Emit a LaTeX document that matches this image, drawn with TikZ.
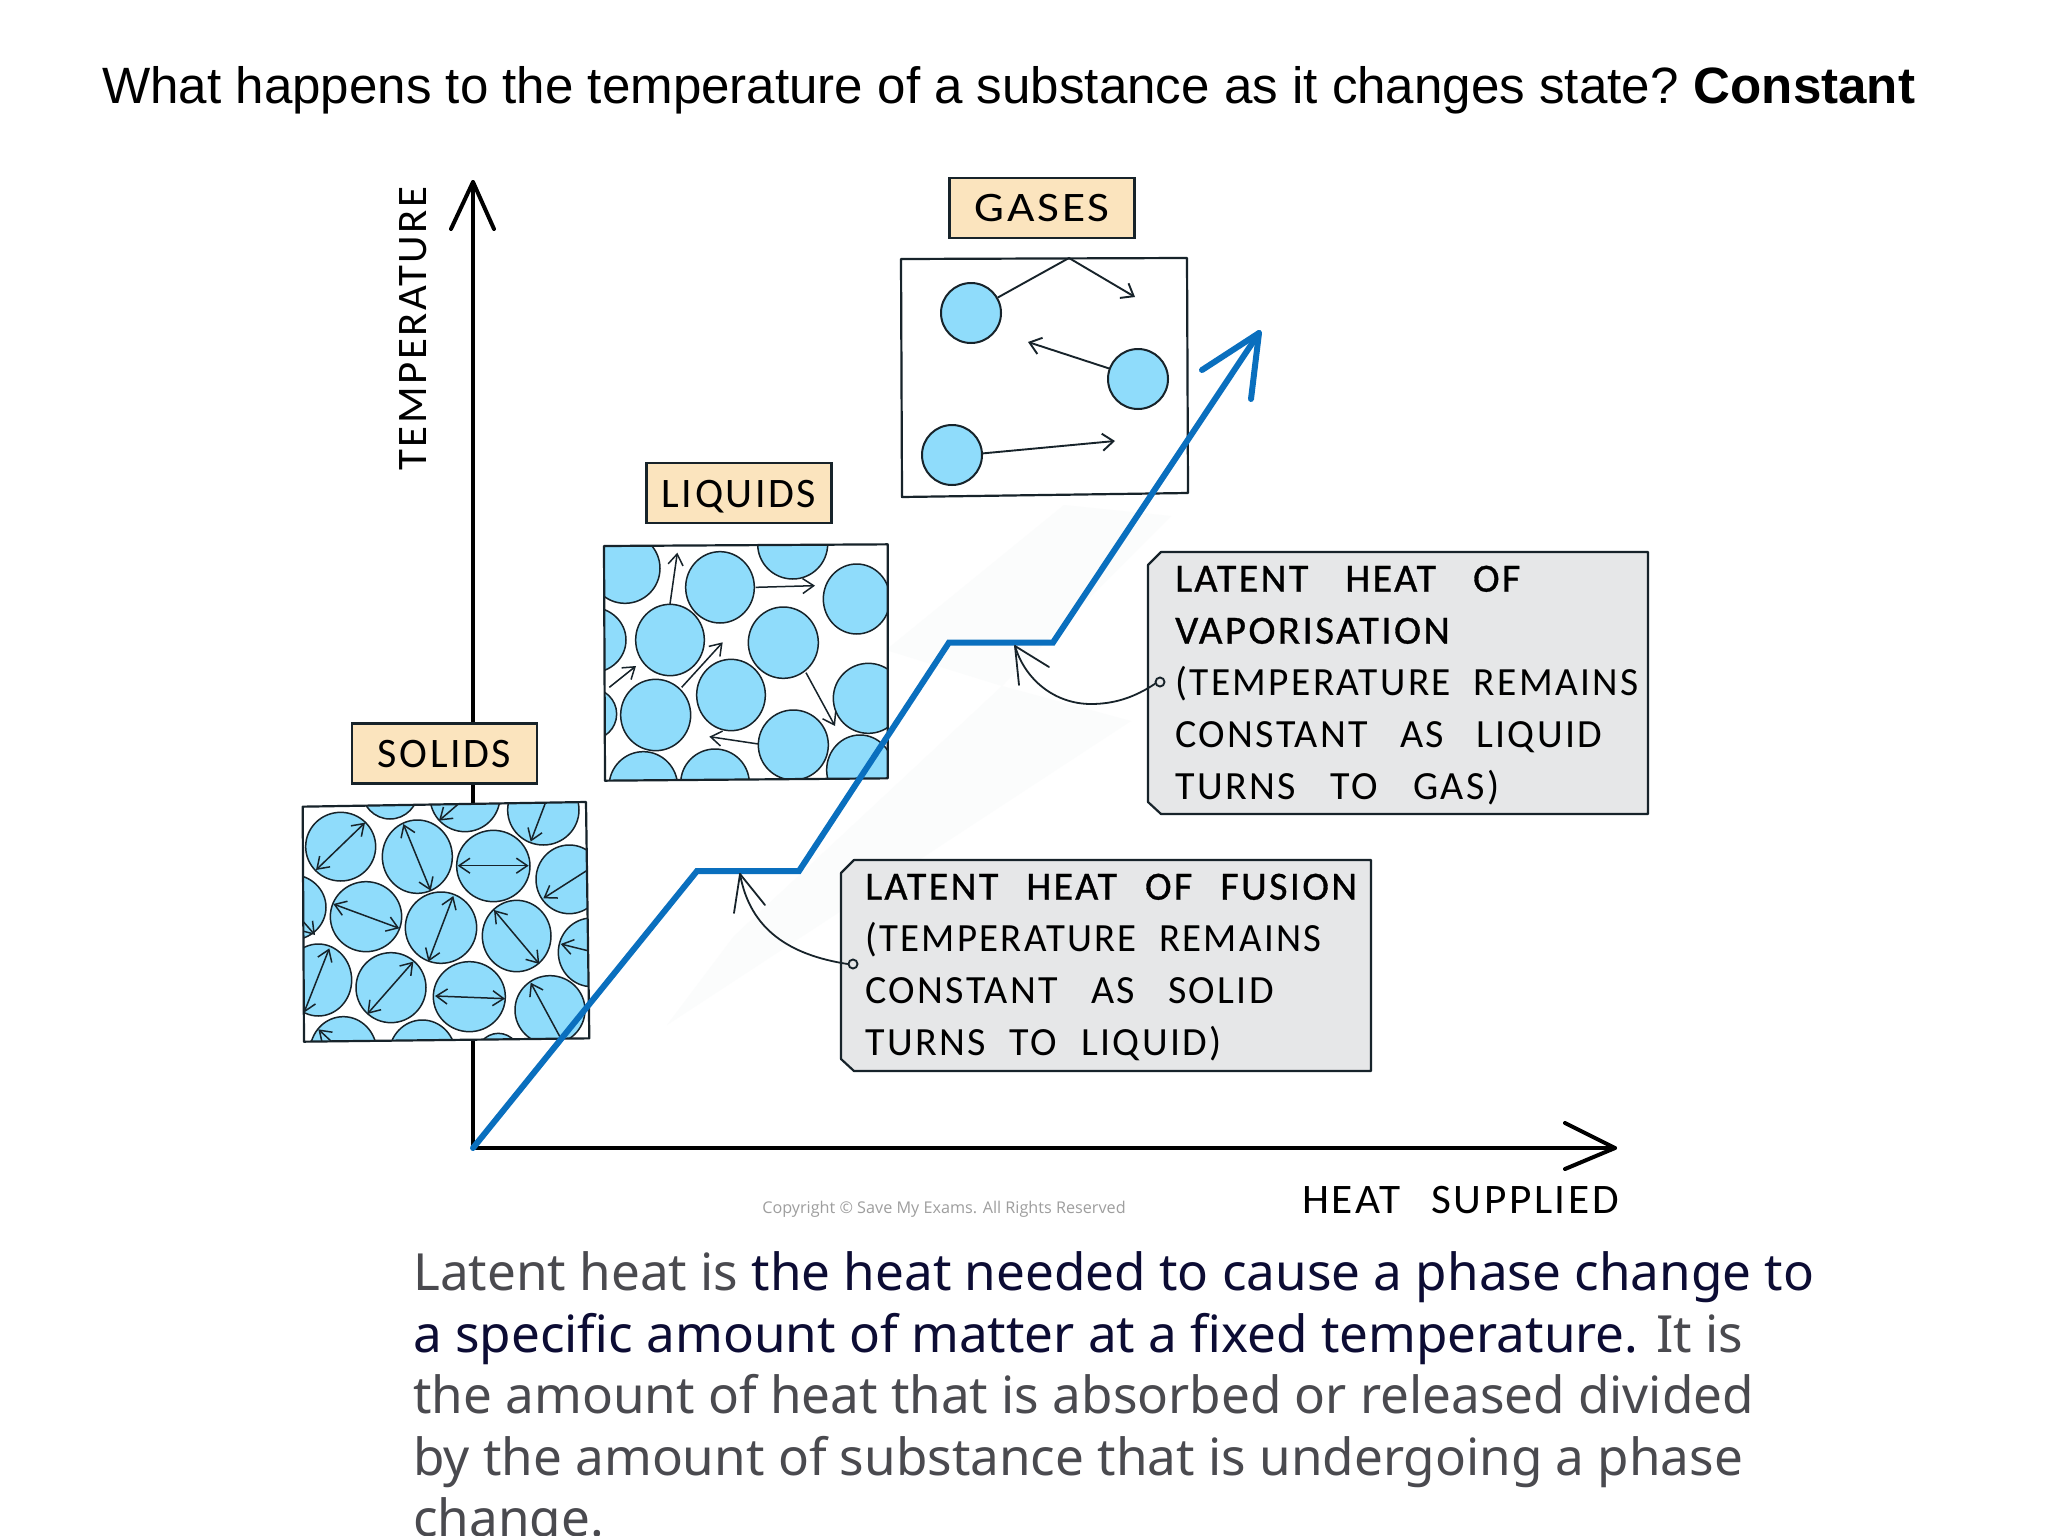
\documentclass[tikz,border=0pt]{standalone}
\usepackage{fontspec}
\usetikzlibrary{arrows.meta}
\setmainfont{Liberation Sans}
\newfontfamily\hwfont[LetterSpace=6]{Carlito}
\newfontfamily\hwbold[LetterSpace=6,FakeBold=0.8]{Carlito}
\newfontfamily\notofont{Noto Sans}
\newfontfamily\copyfont{Open Sans}
\definecolor{ptlblue}{HTML}{8FDCFB}
\definecolor{inkdark}{HTML}{17232A}
\definecolor{tagfill}{HTML}{FBE4BE}
\definecolor{notegray}{HTML}{E6E7E8}
\definecolor{curveblue}{HTML}{0A6FBE}
\definecolor{bodygray}{HTML}{4A4A4F}
\definecolor{bodynavy}{HTML}{0C0C34}
\definecolor{markpale}{HTML}{FBFCFC}
\newcommand{\ptl}[4]{\draw[ptlline] (#1,#2) ellipse [x radius=#3,y radius=#4];}
\tikzset{
  ptlline/.style={draw=inkdark,fill=ptlblue,line width=1.5pt},
  frameline/.style={draw=inkdark,line width=2.2pt,line join=round},
  axisline/.style={draw=black,line width=4pt,line cap=round,line join=round},
  thinarrow/.style={draw=inkdark,line width=1.5pt,arrows={-{Straight Barb[length=11pt,width=15pt,line width=1.5pt]}}},
  gasarrow/.style={draw=inkdark,line width=1.9pt,line join=round,arrows={-{Straight Barb[length=11pt,width=17pt,line width=1.9pt]}}},
  bothway/.style={draw=inkdark,line width=1.5pt,arrows={{Straight Barb[length=11pt,width=15pt,line width=1.5pt]}-{Straight Barb[length=11pt,width=15pt,line width=1.5pt]}}},
  tagbox/.style={draw=inkdark,fill=tagfill,line width=2.2pt,minimum width=185pt,minimum height=60pt,inner sep=0pt},
  hwtext/.style={font=\hwfont\fontsize{42}{50}\selectfont,text=black,inner sep=0pt},
  notepoly/.style={draw=inkdark,fill=notegray,line width=2.2pt,line join=round},
  notetext/.style={font=\hwfont\fontsize{40}{52}\selectfont,text=black,inner sep=0pt,align=left,anchor=north west},
  gasptl/.style={circle,draw=inkdark,fill=ptlblue,line width=2pt,minimum size=60pt,inner sep=0pt},
  pin/.style={circle,draw=inkdark,fill=none,line width=1.9pt,minimum size=9pt,inner sep=0pt},
  curveline/.style={draw=curveblue,line width=6pt,line join=miter,line cap=round},
  body/.style={font=\notofont\fontsize{51.2}{60}\selectfont,inner sep=0pt,anchor=base west,text=bodygray},
  pointer/.style={draw=inkdark,line width=1.8pt,line cap=round,line join=round}
}
\begin{document}
\begin{tikzpicture}[x=1pt,y=-1pt]
\useasboundingbox (0,0) rectangle (2048,1536);
\fill[white] (0,0) rectangle (2048,1536);
% faint watermark
\fill[markpale] (667,1025)--(1131,721)--(1002,686)--(734,936)--cycle;
\fill[markpale] (1002,686)--(1171,516)--(1064,505)--(886,650)--cycle;
% heading
\node[font=\fontsize{51.1}{60}\selectfont,anchor=base west,inner sep=0pt] (heading) at (102,104) {What happens to the temperature of a substance as it changes state?\hspace{15pt}\textbf{Constant}};
% axes
\coordinate (origin) at (473,1148);
\coordinate (ytip) at (473,182);
\coordinate (xtip) at (1615,1148);
\coordinate (yhl) at (451,229); \coordinate (yhr) at (494,229);
\coordinate (xhu) at (1565,1123); \coordinate (xhd) at (1565,1169);
\draw[axisline] (origin) -- (ytip);
\draw[axisline] (origin) -- (xtip);
\draw[axisline] (yhl) -- (ytip) -- (yhr);
\draw[axisline] (xhu) -- (xtip) -- (xhd);
\node[hwtext,rotate=90] (ylabel) at (413,328.5) {\scalebox{1.02}[1]{TEMPERATURE}};
\node[hwtext,anchor=base east] (xlabel) at (1619,1213) {\scalebox{1.03}[1]{HEAT\hspace{30pt}SUPPLIED}};
\node[font=\copyfont\fontsize{16.2}{20}\selectfont,text=black!38,inner sep=0pt] (copy) at (944,1209.5) {Copyright © Save My Exams. All Rights Reserved};
% solids
\begin{scope}[shift={(290,700)},scale=0.33333]
\fill[white] (38,320)--(888,306)--(898,1015)--(42,1025)--cycle;
\begin{scope}
\clip (38,320)--(888,306)--(898,1015)--(42,1025)--cycle;
\ptl{152}{440}{105}{103}\ptl{382}{470}{105}{110}\ptl{610}{498}{110}{107}\ptl{838}{538}{100}{103}
\ptl{300}{270}{85}{87}\ptl{525}{290}{105}{105}\ptl{760}{330}{107}{105}\ptl{5}{622}{103}{98}
\ptl{228}{650}{107}{105}\ptl{453}{683}{107}{107}\ptl{680}{708}{103}{107}\ptl{905}{757}{100}{103}
\ptl{85}{840}{100}{108}\ptl{303}{863}{105}{105}\ptl{538}{890}{108}{105}\ptl{780}{930}{105}{103}
\ptl{160}{1055}{100}{105}\ptl{397}{1065}{100}{105}\ptl{625}{1080}{70}{80}
\draw[bothway] (78,510)--(225,368);
\draw[bothway] (340,372)--(422,572);
\draw[bothway] (503,497)--(716,497);
\draw[thinarrow] (893,510)--(760,595);
\draw[thinarrow] (505,312)--(447,362);
\draw[thinarrow] (765,312)--(722,425);
\draw[thinarrow] (40,665)--(75,705);
\draw[bothway] (130,612)--(328,685);
\draw[bothway] (490,588)--(415,785);
\draw[bothway] (612,630)--(748,792);
\draw[thinarrow] (893,752)--(812,732);
\draw[bothway] (118,745)--(42,938);
\draw[bothway] (370,785)--(232,942);
\draw[bothway] (435,888)--(645,896);
\draw[thinarrow] (815,1020)--(722,848);
\draw[thinarrow] (125,1025)--(85,988);
\end{scope}
\draw[frameline] (38,320)--(888,306)--(898,1015)--(42,1025)--cycle;
\end{scope}
\node[tagbox] (solidstag) at (444.5,753.5) {};
\node[hwtext] (solidstext) at (444.5,754) {SOLIDS};
% liquids
\begin{scope}[shift={(590,450)},scale=0.33333]
\fill[white] (42,288)--(893,283)--(893,985)--(45,992)--cycle;
\begin{scope}
\clip (42,288)--(893,283)--(893,985)--(45,992)--cycle;
\ptl{105}{355}{105}{105}\ptl{390}{412}{103}{107}\ptl{608}{282}{105}{105}\ptl{800}{447}{100}{105}
\ptl{5}{570}{103}{98}\ptl{240}{570}{103}{107}\ptl{580}{578}{105}{107}\ptl{197}{795}{105}{107}
\ptl{423}{735}{103}{107}\ptl{835}{745}{105}{105}\ptl{610}{885}{105}{105}\ptl{0}{792}{80}{78}
\ptl{160}{1010}{103}{105}\ptl{375}{1000}{103}{103}\ptl{810}{960}{100}{105}
\end{scope}
\draw[thinarrow] (240,462)--(262,308);
\draw[thinarrow] (497,412)--(675,407);
\draw[thinarrow] (58,712)--(138,648);
\draw[thinarrow] (275,712)--(398,577);
\draw[thinarrow] (648,668)--(735,828);
\draw[thinarrow] (505,882)--(358,860);
\draw[frameline] (42,288)--(893,283)--(893,985)--(45,992)--cycle;
\end{scope}
\node[tagbox] (liquidstag) at (739,493) {};
\node[hwtext] (liquidstext) at (739,497) {LIQUIDS};
% gases
\draw[frameline,fill=white] (901,259)--(1187,258)--(1188,493)--(902,497)--cycle;
\node[gasptl] (g1) at (971,313) {};
\node[gasptl] (g2) at (1138,379) {};
\node[gasptl] (g3) at (952,455) {};
\coordinate (gbend) at (1069,258);
\coordinate (gt1) at (1135,297);
\coordinate (gt2) at (1028,342);
\coordinate (gt3) at (1115,441);
\draw[gasarrow] (g1.30)--(gbend)--(gt1);
\draw[gasarrow] (g2.160)--(gt2);
\draw[gasarrow] (g3.3)--(gt3);
\node[tagbox] (gasestag) at (1042,208) {};
\node[hwtext] (gasestext) at (1042,208) {\scalebox{1.13}[1]{GASES}};
% heating curve
\coordinate (c1) at (697,871); \coordinate (c2) at (799,871);
\coordinate (c3) at (949,642.5); \coordinate (c4) at (1053,642.5);
\coordinate (ctip) at (1259,333);
\coordinate (chl) at (1202,370); \coordinate (chr) at (1251,399);
\draw[curveline] (origin)--(c1)--(c2)--(c3)--(c4)--(ctip);
\draw[curveline,line join=round] (chl)--(ctip)--(chr);
% notes
\draw[notepoly] (1161,552)--(1648,552)--(1648,814)--(1161,814)--(1148,802)--(1148,565)--cycle;
\draw[notepoly] (854,860)--(1371,860)--(1371,1071)--(854,1071)--(841,1059)--(841,873)--cycle;
\node[notetext] (vaptext) at (1175,565.5) {{\hwbold LATENT\hspace{37pt}HEAT\hspace{37pt}OF}\\{\hwbold \scalebox{1.02}[1]{VAPORISATION}}\\\scalebox{0.985}[1]{(TEMPERATURE\hspace{23pt}REMAINS}\\CONSTANT\hspace{32pt}AS\hspace{32pt}LIQUID\\TURNS\hspace{35pt}TO\hspace{35pt}GAS)};
\node[notetext] (fustext) at (865,873.5) {{\hwbold LATENT\hspace{28pt}HEAT\hspace{28pt}OF\hspace{28pt}FUSION}\\\scalebox{0.97}[1]{(TEMPERATURE\hspace{23pt}REMAINS}\\CONSTANT\hspace{33pt}AS\hspace{33pt}SOLID\\TURNS\hspace{24pt}TO\hspace{24pt}LIQUID)};
\node[pin] (vappin) at (1160,682) {};
\node[pin] (fuspin) at (853,964) {};
\coordinate (vaptip) at (1015,646); \coordinate (vaplow) at (1091,704);
\coordinate (vh1) at (1019,685); \coordinate (vh2) at (1049,667);
\coordinate (fustip) at (740,874);
\coordinate (fh1) at (734,913); \coordinate (fh2) at (765,905);
\draw[pointer] (vappin.200) .. controls (1135,697) and (1115,704) .. (vaplow) .. controls (1055,704) and (1025,680) .. (vaptip);
\draw[pointer] (vh1)--(vaptip)--(vh2);
\draw[pointer] (fuspin.west) .. controls (790,955) and (750,930) .. (fustip);
\draw[pointer] (fh1)--(fustip)--(fh2);
% body text
\node[body] (line1) at (413,1290.7) {Latent heat is \textcolor{bodynavy}{the heat needed to cause a phase change to}};
\node[body] (line2) at (413,1352.2) {\textcolor{bodynavy}{a specific amount of matter at a fixed temperature.} It is};
\node[body] (line3) at (413,1413.7) {the amount of heat that is absorbed or released divided};
\node[body] (line4) at (413,1475.2) {by the amount of substance that is undergoing a phase};
\node[body] (line5) at (413,1536.7) {change.};
\end{tikzpicture}
\end{document}
